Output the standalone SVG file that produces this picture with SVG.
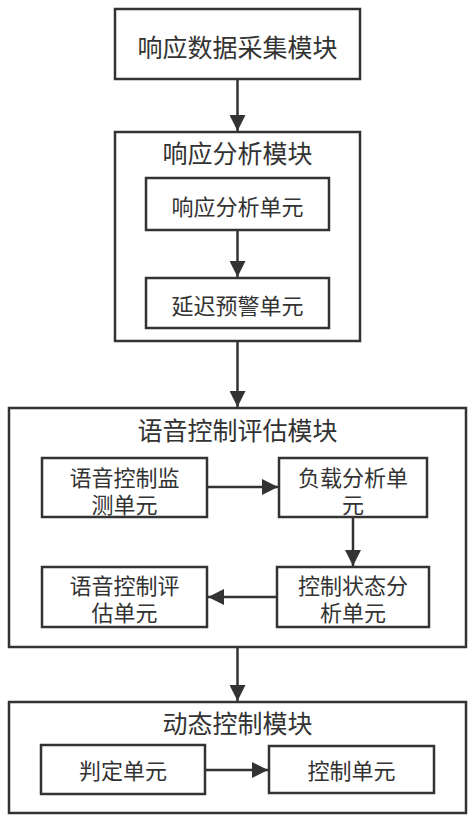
<svg xmlns="http://www.w3.org/2000/svg" width="474" height="822" viewBox="0 0 474 822">
<style>
.box{fill:#fff;stroke:#333;stroke-width:2.5}
.t{font-family:"Noto Sans CJK SC","Noto Sans",sans-serif;fill:#333;text-anchor:middle;dominant-baseline:central}
.big{font-size:25px}
.sm{font-size:22px}
.ln{stroke:#333;stroke-width:2.5;fill:none;marker-end:url(#ah)}
</style>
<defs>
<marker id="ah" viewBox="0 0 10 10" refX="10" refY="5" markerWidth="19" markerHeight="16" markerUnits="userSpaceOnUse" orient="auto">
<path d="M0,0 L10,5 L0,10 Z" fill="#333"/>
</marker>
</defs>
<rect width="474" height="822" fill="#fff"/>
<g id="n1"><rect class="box" x="115" y="9" width="245" height="70"/><text class="t big" x="237.5" y="46">响应数据采集模块</text></g>
<g id="n2"><rect class="box" x="115" y="132" width="245" height="209"/><text class="t big" x="237.5" y="152">响应分析模块</text></g>
<g id="n2a"><rect class="box" x="146" y="178" width="183" height="52"/><text class="t sm" x="237.5" y="205">响应分析单元</text></g>
<g id="n2b"><rect class="box" x="146" y="278" width="183" height="50"/><text class="t sm" x="237.5" y="304">延迟预警单元</text></g>
<g id="n3"><rect class="box" x="9" y="408" width="457" height="239"/><text class="t big" x="237.5" y="429">语音控制评估模块</text></g>
<g id="n3a"><rect class="box" x="42" y="458" width="165" height="59"/><text class="t sm" x="124.5" y="476">语音控制监</text><text class="t sm" x="124.5" y="503">测单元</text></g>
<g id="n3b"><rect class="box" x="279" y="458" width="148" height="59"/><text class="t sm" x="353" y="476">负载分析单</text><text class="t sm" x="353" y="503">元</text></g>
<g id="n3c"><rect class="box" x="277" y="567" width="152" height="60"/><text class="t sm" x="353" y="584">控制状态分</text><text class="t sm" x="353" y="611">析单元</text></g>
<g id="n3d"><rect class="box" x="42" y="567" width="165" height="60"/><text class="t sm" x="124.5" y="584">语音控制评</text><text class="t sm" x="124.5" y="611">估单元</text></g>
<g id="n4"><rect class="box" x="9" y="702" width="457" height="111"/><text class="t big" x="237.5" y="722">动态控制模块</text></g>
<g id="n4a"><rect class="box" x="41" y="745" width="164" height="49"/><text class="t sm" x="123" y="769">判定单元</text></g>
<g id="n4b"><rect class="box" x="269" y="746" width="165" height="47"/><text class="t sm" x="351.5" y="769">控制单元</text></g>
<g id="connectors">
<line class="ln" x1="237.5" y1="79" x2="237.5" y2="131"/>
<line class="ln" x1="237.5" y1="230" x2="237.5" y2="277"/>
<line class="ln" x1="237.5" y1="341" x2="237.5" y2="407"/>
<line class="ln" x1="207" y1="487" x2="278" y2="487"/>
<line class="ln" x1="353" y1="517" x2="353" y2="566"/>
<line class="ln" x1="277" y1="597" x2="208" y2="597"/>
<line class="ln" x1="237.5" y1="647" x2="237.5" y2="701"/>
<line class="ln" x1="205" y1="770" x2="268" y2="770"/>
</g>
</svg>
